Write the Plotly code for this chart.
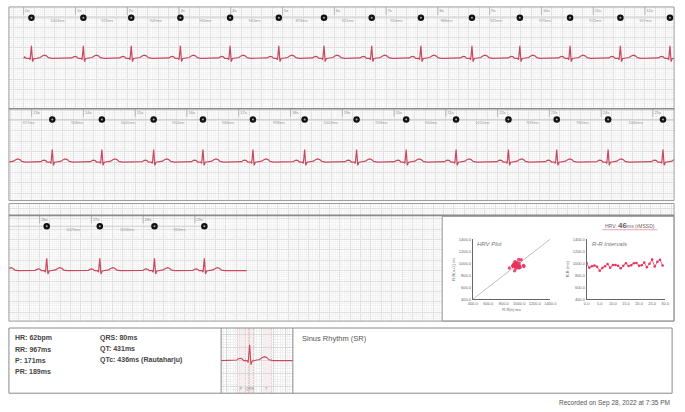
import plotly.graph_objects as go

W, H = 685, 412

# ---------------- data ----------------
first_r_s = 0.15                      # time of first R peak (s)
rr_ms = [1003, 925, 949, 960, 941, 873, 921, 950, 986, 925, 970, 972, 957,
         917, 958, 1000, 952, 966, 998, 1003, 958, 964, 1011, 933, 992, 1060,
         944, 1025, 1056, 963]
record_len_s = 30.0

# single-beat shape (time relative to R peak in s, amplitude in mV)
beat_dt = [-0.26, -0.22, -0.19, -0.16, -0.13, -0.10, -0.045, -0.025, 0.0, 0.022,
           0.045, 0.10, 0.17, 0.21, 0.25, 0.29, 0.33, 0.40]
beat_mv = [0.0, 0.02, 0.07, 0.09, 0.07, 0.0, 0.0, -0.07, 0.60, -0.16,
           -0.01, 0.0, 0.04, 0.11, 0.15, 0.12, 0.03, 0.0]

summary_left = ["HR: 62bpm", "RR: 967ms", "P: 171ms", "PR: 189ms"]
summary_right = ["QRS: 80ms", "QT: 431ms", "QTc: 436ms (Rautaharju)"]
rhythm_label = "Sinus Rhythm (SR)"
recorded_label = "Recorded on Sep 28, 2022 at 7:35 PM"
hrv_rmssd_ms = 46
hrv_ticks = [400, 600, 800, 1000, 1200, 1400]
rr_index_ticks = [0, 5, 10, 15, 20, 25, 30]
template_wave_names = ["P", "QRS", "T"]
template_wave_centers = [-0.15, 0.0, 0.28]
template_marks = [-0.167, -0.067, -0.017, 0.067, 0.233, 0.367]

# ---------------- derived ----------------
r_times = [first_r_s]
for rr in rr_ms:
    r_times.append(r_times[-1] + rr / 1000.0)

ecg_t, ecg_v = [0.0], [0.0]
for r in r_times:
    for dt, mv in zip(beat_dt, beat_mv):
        t = r + dt
        if 0.0 <= t <= record_len_s:
            ecg_t.append(t)
            ecg_v.append(mv)
ecg_t.append(record_len_s)
ecg_v.append(0.0)

ECG_COLOR = "#c9485e"
PINK = "#e8315a"
FONT = "Liberation Sans"
GRID_MAJOR = "#e1e1e1"
GRID_MINOR = "#f4f4f4"


def fx(px):
    return px / W


def fy(py):
    return 1 - py / H


fig = go.Figure()
layout = dict(width=W, height=H, margin=dict(l=0, r=0, t=0, b=0), autosize=False,
              paper_bgcolor="white", plot_bgcolor="white", showlegend=False,
              font=dict(family=FONT, color="#555"))
shapes = []
annotations = []

# ---------------- rhythm strips ----------------
px_per_s = 52.7
strip_left, strip_right = 4, 681
row_span = (strip_right - strip_left) / px_per_s
row0_start = -15 / px_per_s
mv_px = 21.0
rows = [
    dict(top=4, bot=107, tick=4, base=56),
    dict(top=107, bot=200, tick=107, base=161),
    dict(top=203, bot=322, tick=215, base=271),
]
last_r = r_times[-1]

for i, rw in enumerate(rows):
    n = "" if i == 0 else str(i + 1)
    xa, ya = "x" + n, "y" + n
    start = row0_start + i * row_span
    end = start + row_span
    base = rw["base"]

    def yv(py, base=base):
        return (base - py) / mv_px

    layout["xaxis" + n] = dict(
        domain=[fx(strip_left), fx(strip_right)], range=[start, end], anchor=ya,
        showticklabels=False, ticks="", zeroline=False, showline=False,
        showgrid=True, dtick=0.2, tick0=0, gridcolor=GRID_MAJOR, gridwidth=0.8,
        minor=dict(dtick=0.04, showgrid=True, gridcolor=GRID_MINOR, gridwidth=0.5),
        fixedrange=True)
    layout["yaxis" + n] = dict(
        domain=[fy(rw["bot"]), fy(rw["top"])], range=[yv(rw["bot"]), yv(rw["top"])],
        anchor=xa, showticklabels=False, ticks="", zeroline=False, showline=False,
        showgrid=True, dtick=0.5, tick0=0, gridcolor=GRID_MAJOR, gridwidth=0.8,
        minor=dict(dtick=0.1, showgrid=True, gridcolor=GRID_MINOR, gridwidth=0.5),
        fixedrange=True)

    # ECG trace
    fig.add_trace(go.Scatter(x=ecg_t, y=ecg_v, mode="lines", xaxis=xa, yaxis=ya,
                             line=dict(color=ECG_COLOR, width=1.2), hoverinfo="skip"))

    # seconds ticks + labels (only within the recording)
    secs = [s for s in range(0, 40) if start <= s <= end and s < record_len_s]
    tx, ty = [], []
    for s in secs:
        tx += [s, s, None]
        ty += [yv(rw["tick"]), yv(rw["tick"] + 8), None]
    fig.add_trace(go.Scatter(x=tx, y=ty, mode="lines", xaxis=xa, yaxis=ya,
                             line=dict(color="#a8a8a8", width=0.8), hoverinfo="skip"))
    fig.add_trace(go.Scatter(x=[s + 0.03 for s in secs], y=[yv(rw["tick"] + 4.5)] * len(secs),
                             text=[f"{s}s" for s in secs], mode="text", textposition="middle right",
                             textfont=dict(size=4, color="#8a8a8a"), xaxis=xa, yaxis=ya,
                             hoverinfo="skip"))

    # R-R ruler line
    my = yv(rw["tick"] + 11)
    fig.add_trace(go.Scatter(x=[start, min(end, last_r)], y=[my, my], mode="lines",
                             xaxis=xa, yaxis=ya,
                             line=dict(color="#c8c8c8", width=0.8), hoverinfo="skip"))
    # RR labels
    mids, labs = [], []
    for k, rr in enumerate(rr_ms):
        m = (r_times[k] + r_times[k + 1]) / 2
        if start + 0.3 < m < end:
            mids.append(m)
            labs.append(f"{rr}ms")
    fig.add_trace(go.Scatter(x=mids, y=[yv(rw["tick"] + 14.5)] * len(mids), text=labs,
                             mode="text", textposition="middle center",
                             textfont=dict(size=4, color="#999"), xaxis=xa, yaxis=ya,
                             hoverinfo="skip"))
    # beat markers
    fig.add_trace(go.Scatter(x=r_times, y=[my] * len(r_times), mode="markers", xaxis=xa, yaxis=ya,
                             marker=dict(size=6.5, color="#111"), hoverinfo="skip"))
    fig.add_trace(go.Scatter(x=r_times, y=[my] * len(r_times), mode="markers", xaxis=xa, yaxis=ya,
                             marker=dict(size=2, color="#aaa"), hoverinfo="skip"))

# strip borders
shapes.append(dict(type="rect", xref="paper", yref="paper", x0=fx(4), x1=fx(681),
                   y0=fy(200), y1=fy(4), line=dict(color="#9a9a9a", width=1), layer="above"))
shapes.append(dict(type="line", xref="paper", yref="paper", x0=fx(4), x1=fx(681),
                   y0=fy(107), y1=fy(107), line=dict(color="#8a8a8a", width=1.6), layer="above"))
shapes.append(dict(type="rect", xref="paper", yref="paper", x0=fx(4), x1=fx(681),
                   y0=fy(322), y1=fy(203), line=dict(color="#9a9a9a", width=1), layer="above"))
shapes.append(dict(type="line", xref="paper", yref="paper", x0=fx(4), x1=fx(681),
                   y0=fy(215), y1=fy(215), line=dict(color="#8a8a8a", width=1.6), layer="above"))

# ---------------- HRV panel (white box over the grid) ----------------
layout["xaxis4"] = dict(domain=[fx(445), fx(681)], range=[0, 1], visible=False, anchor="y4",
                        fixedrange=True)
layout["yaxis4"] = dict(domain=[fy(322), fy(216)], range=[0, 1], visible=False, anchor="x4",
                        fixedrange=True)
fig.add_trace(go.Scatter(x=[0, 1, 1, 0, 0], y=[0, 0, 1, 1, 0], fill="toself", fillcolor="white",
                         mode="lines", line=dict(width=0, color="white"), xaxis="x4", yaxis="y4",
                         hoverinfo="skip"))
shapes.append(dict(type="rect", xref="paper", yref="paper", x0=fx(445), x1=fx(681),
                   y0=fy(322), y1=fy(216), line=dict(color="#9a9a9a", width=1), layer="above"))

tick_txt = [f"{v:.1f}" for v in hrv_ticks]
axis_common = dict(showgrid=False, zeroline=False, showline=True, linecolor="#666", linewidth=0.8,
                   ticks="", tickfont=dict(size=4, color="#666"), fixedrange=True)
# Poincare plot
layout["xaxis5"] = dict(domain=[fx(476), fx(555)], range=[400, 1400], tickvals=hrv_ticks,
                        ticktext=tick_txt, anchor="y5",
                        title=dict(text="R-R(n) ms", font=dict(size=4, color="#666"), standoff=3),
                        **axis_common)
layout["yaxis5"] = dict(domain=[fy(300), fy(239)], range=[400, 1400], tickvals=hrv_ticks,
                        ticktext=tick_txt, anchor="x5",
                        title=dict(text="R-R(n+1) ms", font=dict(size=4, color="#666"), standoff=3),
                        **axis_common)
fig.add_trace(go.Scatter(x=[400, 1400], y=[400, 1400], mode="lines", xaxis="x5", yaxis="y5",
                         line=dict(color="#b0b0b0", width=0.8), hoverinfo="skip"))
fig.add_trace(go.Scatter(x=rr_ms[:-1], y=rr_ms[1:], mode="markers", xaxis="x5", yaxis="y5",
                         marker=dict(size=3.5, color=PINK, opacity=0.85), hoverinfo="skip"))
annotations.append(dict(text="<i>HRV Plot</i>", xref="x5 domain", yref="y5 domain", x=0.03, y=1.0,
                        xanchor="left", yanchor="top", showarrow=False,
                        font=dict(size=6, color="#777")))

# R-R interval series
layout["xaxis6"] = dict(domain=[fx(592), fx(672)], range=[0, 30], tickvals=rr_index_ticks,
                        ticktext=[f"{v:.1f}" for v in rr_index_ticks], anchor="y6", **axis_common)
layout["yaxis6"] = dict(domain=[fy(300), fy(239)], range=[400, 1400], tickvals=hrv_ticks,
                        ticktext=tick_txt, anchor="x6",
                        title=dict(text="R-R (ms)", font=dict(size=4, color="#666"), standoff=3),
                        **axis_common)
fig.add_trace(go.Scatter(x=list(range(len(rr_ms))), y=rr_ms, mode="lines+markers",
                         xaxis="x6", yaxis="y6", line=dict(color=PINK, width=0.8),
                         marker=dict(size=2.5, color=PINK), hoverinfo="skip"))
annotations.append(dict(text="<i>R-R Intervals</i>", xref="x6 domain", yref="y6 domain", x=0.04,
                        y=1.0, xanchor="left", yanchor="top", showarrow=False,
                        font=dict(size=6, color="#777")))

annotations.append(dict(
    text=f"HRV: <span style='font-size:8px'><b>{hrv_rmssd_ms}</b></span>ms (rMSSD)",
    xref="paper", yref="paper", x=fx(609), y=fy(225), xanchor="left", yanchor="middle",
    showarrow=False, font=dict(size=5, color="#666")))
shapes.append(dict(type="line", xref="paper", yref="paper", x0=fx(608), x1=fx(664),
                   y0=fy(229.5), y1=fy(229.5), line=dict(color="#f08a9c", width=0.8),
                   layer="above"))

# ---------------- bottom summary ----------------
shapes.append(dict(type="rect", xref="paper", yref="paper", x0=fx(4), x1=fx(679),
                   y0=fy(395), y1=fy(329), line=dict(color="#8a8a8a", width=1), layer="above"))
for xp in (220, 293):
    shapes.append(dict(type="line", xref="paper", yref="paper", x0=fx(xp), x1=fx(xp),
                       y0=fy(395), y1=fy(329), line=dict(color="#8a8a8a", width=1),
                       layer="above"))

for k, txt in enumerate(summary_left):
    annotations.append(dict(text=txt, xref="paper", yref="paper", x=fx(8), y=fy(339 + k * 11.3),
                            xanchor="left", yanchor="middle", showarrow=False,
                            font=dict(size=7, color="#444", weight=600)))
for k, txt in enumerate(summary_right):
    annotations.append(dict(text=txt, xref="paper", yref="paper", x=fx(95), y=fy(339 + k * 11.3),
                            xanchor="left", yanchor="middle", showarrow=False,
                            font=dict(size=7, color="#444", weight=600)))

annotations.append(dict(text=rhythm_label, xref="paper", yref="paper", x=fx(300), y=fy(340),
                        xanchor="left", yanchor="middle", showarrow=False,
                        font=dict(size=7.5, color="#555")))
annotations.append(dict(text=recorded_label, xref="paper", yref="paper", x=fx(679), y=fy(404.5),
                        xanchor="right", yanchor="middle", showarrow=False,
                        font=dict(size=6.5, color="#555")))

# averaged beat template
t_px_per_s = 60.0
t_mv_px = 26.7
layout["xaxis7"] = dict(domain=[fx(220), fx(293)], range=[-29 / t_px_per_s, 44 / t_px_per_s],
                        anchor="y7", showticklabels=False, ticks="", zeroline=False,
                        showgrid=True, dtick=0.2, tick0=0, gridcolor="#dadada", gridwidth=0.8,
                        minor=dict(dtick=0.04, showgrid=True, gridcolor="#f0f0f0", gridwidth=0.5),
                        fixedrange=True)
layout["yaxis7"] = dict(domain=[fy(395), fy(329)], range=[-33 / t_mv_px, 33 / t_mv_px],
                        anchor="x7", showticklabels=False, ticks="", zeroline=False,
                        showgrid=True, dtick=0.5, tick0=0, gridcolor="#dadada", gridwidth=0.8,
                        minor=dict(dtick=0.1, showgrid=True, gridcolor="#f0f0f0", gridwidth=0.5),
                        fixedrange=True)
for a, b in ((0, 1), (2, 3), (4, 5)):
    shapes.append(dict(type="rect", xref="x7", yref="y7 domain", x0=template_marks[a],
                       x1=template_marks[b], y0=0, y1=1, fillcolor="rgba(240,150,160,0.18)",
                       line=dict(width=0), layer="below"))
for m in template_marks:
    shapes.append(dict(type="line", xref="x7", yref="y7 domain", x0=m, x1=m, y0=0, y1=1,
                       line=dict(color="rgba(230,120,135,0.55)", width=0.8), layer="below"))
tmpl_t = [-0.50] + beat_dt + [0.75]
tmpl_v = [0.0] + beat_mv + [0.0]
fig.add_trace(go.Scatter(x=tmpl_t, y=tmpl_v, mode="lines", xaxis="x7", yaxis="y7",
                         line=dict(color=ECG_COLOR, width=1.1), hoverinfo="skip"))
fig.add_trace(go.Scatter(x=template_wave_centers, y=[-29 / t_mv_px] * 3, text=template_wave_names,
                         mode="text", textfont=dict(size=4, color="#888"), xaxis="x7", yaxis="y7",
                         hoverinfo="skip"))

layout["shapes"] = shapes
layout["annotations"] = annotations
fig.update_layout(**layout)
fig.write_html("out.html")
